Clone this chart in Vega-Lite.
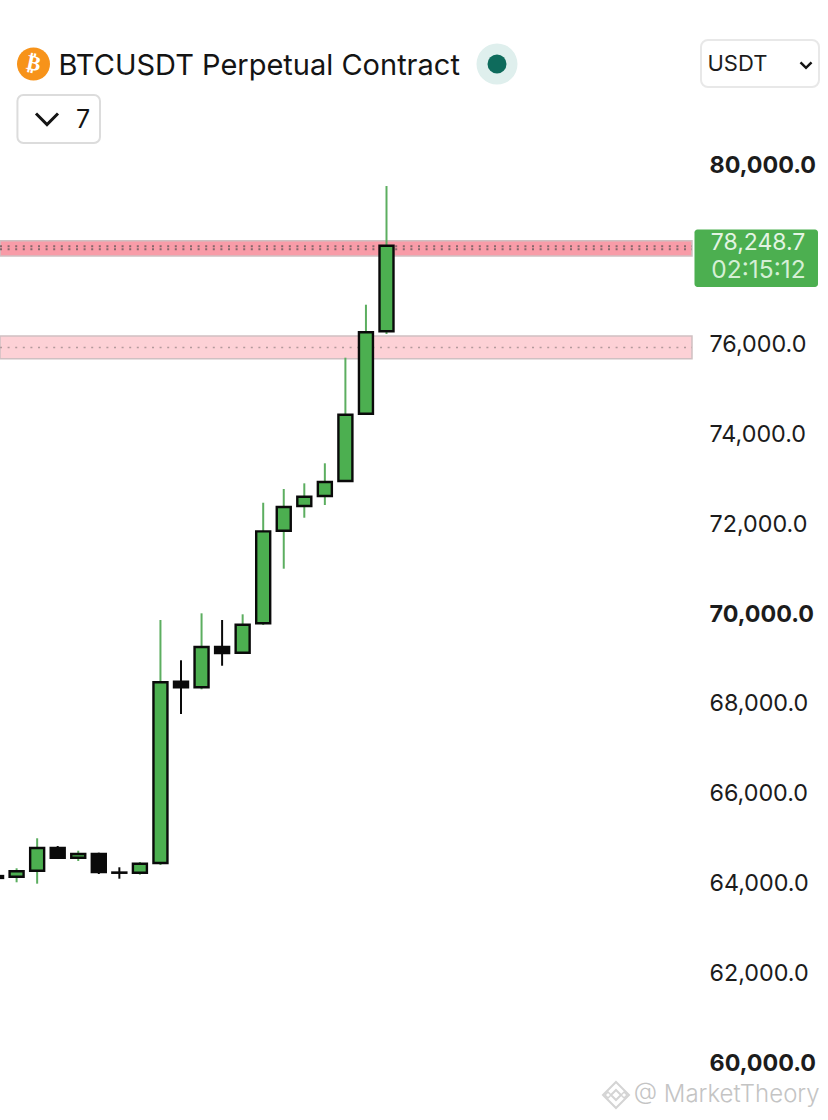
{"$schema":"https://vega.github.io/schema/vega-lite/v6.json","autosize":{"type":"fit","contains":"padding"},"width":828,"height":1120,"padding":0,"background":"#ffffff","config":{"view":{"stroke":null},"font":"Inter"},"datasets":{"candles":[{"t":-1,"open":64165,"close":64123,"high":64165,"low":64123,"dir":"down"},{"t":0,"open":64150,"close":64271,"high":64338,"low":64026,"dir":"up"},{"t":1,"open":64284,"close":64790,"high":65006,"low":63995,"dir":"up"},{"t":2,"open":64790,"close":64573,"high":64834,"low":64573,"dir":"down"},{"t":3,"open":64573,"close":64656,"high":64729,"low":64500,"dir":"up"},{"t":4,"open":64656,"close":64255,"high":64685,"low":64211,"dir":"down"},{"t":5,"open":64243,"close":64238,"high":64360,"low":64106,"dir":"down"},{"t":6,"open":64240,"close":64440,"high":64478,"low":64195,"dir":"up"},{"t":7,"open":64456,"close":68480,"high":69867,"low":64411,"dir":"up"},{"t":8,"open":68493,"close":68368,"high":68970,"low":67774,"dir":"down"},{"t":9,"open":68368,"close":69266,"high":70016,"low":68324,"dir":"up"},{"t":10,"open":69266,"close":69132,"high":69867,"low":68849,"dir":"down"},{"t":11,"open":69139,"close":69762,"high":69994,"low":69139,"dir":"up"},{"t":12,"open":69794,"close":71842,"high":72479,"low":69756,"dir":"up"},{"t":13,"open":71856,"close":72384,"high":72785,"low":71010,"dir":"up"},{"t":14,"open":72406,"close":72613,"high":72911,"low":72145,"dir":"up"},{"t":15,"open":72629,"close":72940,"high":73357,"low":72428,"dir":"up"},{"t":16,"open":72963,"close":74439,"high":75709,"low":72963,"dir":"up"},{"t":17,"open":74461,"close":76274,"high":76889,"low":74461,"dir":"up"},{"t":18,"open":76297,"close":78203,"high":79532,"low":76236,"dir":"up"}],"zones":[{"zone":"upper","low":77973,"high":78314},{"zone":"lower","low":75686,"high":76192}],"levels":[{"zone":"upper","level":78190},{"zone":"upper","level":78123},{"zone":"lower","level":75936}]},"layer":[{"data":{"name":"zones"},"mark":{"type":"rect","stroke":"#cfc0c2","strokeWidth":1.5,"clip":true},"encoding":{"x":{"datum":-0.8078,"type":"quantitative","scale":{"domain":[-0.8078,39.484],"nice":false,"zero":false,"padding":0},"axis":null},"x2":{"datum":32.866},"y":{"field":"low","type":"quantitative","scale":{"domain":[58732,83675],"nice":false,"zero":false},"axis":{"title":null,"orient":"right","offset":-119,"values":[60000,62000,64000,66000,68000,70000,72000,74000,76000,80000],"labelExpr":"format(datum.value,',.1f')","labelAlign":"left","labelBaseline":"middle","labelPadding":0,"labelFont":"Inter","labelFontSize":23.3,"labelColor":"#1c1c1c","labelFontWeight":{"condition":{"test":"datum.value%10000===0","value":"bold"},"value":"normal"},"labelOverlap":false,"labelFlush":false,"labelBound":false,"ticks":false,"domain":false,"grid":false}},"y2":{"field":"high"},"color":{"field":"zone","type":"nominal","legend":null,"scale":{"domain":["upper","lower"],"range":["#f89ca8","#fdd1d6"]}}}},{"data":{"name":"levels"},"mark":{"type":"rule","strokeDash":[2,5.6],"clip":true},"encoding":{"x":{"datum":-0.8078,"type":"quantitative"},"x2":{"datum":32.866},"y":{"field":"level","type":"quantitative"},"stroke":{"field":"zone","type":"nominal","legend":null,"scale":{"domain":["up","down","upper","lower"],"range":["#5cae60","#0a0a0a","#85686c","#b39a9c"]}},"strokeWidth":{"field":"zone","type":"nominal","legend":null,"scale":{"domain":["upper","lower"],"range":[2,1.5]}}}},{"data":{"name":"candles"},"mark":{"type":"rule","strokeWidth":2,"clip":true},"encoding":{"x":{"field":"t","type":"quantitative","scale":{"domain":[-0.8078,39.484],"nice":false,"zero":false,"padding":0}},"y":{"field":"low","type":"quantitative"},"y2":{"field":"high"},"stroke":{"field":"dir","type":"nominal","legend":null,"scale":{"domain":["up","down","upper","lower"],"range":["#5cae60","#0a0a0a","#85686c","#b39a9c"]}}}},{"data":{"name":"candles"},"mark":{"type":"bar","size":14,"stroke":"#0a0a0a","strokeWidth":2.4,"clip":true},"encoding":{"x":{"field":"t","type":"quantitative","scale":{"domain":[-0.8078,39.484],"nice":false,"zero":false,"padding":0}},"y":{"field":"open","type":"quantitative"},"y2":{"field":"close"},"fill":{"field":"dir","type":"nominal","legend":null,"scale":{"domain":["up","down"],"range":["#4caf50","#0a0a0a"]}}}},{"data":{"values":[{"label":"BTCUSDT Perpetual Contract"}]},"mark":{"type":"text","align":"left","baseline":"middle","font":"Inter","fontSize":29,"color":"#141414"},"encoding":{"x":{"datum":2.04,"type":"quantitative"},"y":{"datum":82215,"type":"quantitative"},"text":{"field":"label"}}},{"data":{"values":[{"k":"icon"}]},"mark":{"type":"point","shape":"circle","filled":true,"size":1089,"color":"#f7931a","opacity":1},"encoding":{"x":{"datum":0.822,"type":"quantitative"},"y":{"datum":82249,"type":"quantitative"}}},{"data":{"values":[{"label":"₿"}]},"mark":{"type":"text","align":"center","baseline":"middle","font":"DejaVu Sans","fontWeight":"bold","fontSize":21,"angle":12,"color":"#ffffff"},"encoding":{"x":{"datum":0.822,"type":"quantitative"},"y":{"datum":82249,"type":"quantitative"},"text":{"field":"label"}}},{"data":{"values":[{"k":"halo"}]},"mark":{"type":"point","shape":"circle","filled":true,"size":1681,"color":"#dfefed","opacity":1},"encoding":{"x":{"datum":23.377,"type":"quantitative"},"y":{"datum":82249,"type":"quantitative"}}},{"data":{"values":[{"k":"dot"}]},"mark":{"type":"point","shape":"circle","filled":true,"size":361,"color":"#0e6b5c","opacity":1},"encoding":{"x":{"datum":23.377,"type":"quantitative"},"y":{"datum":82249,"type":"quantitative"}}},{"data":{"values":[{"k":"button"}]},"mark":{"type":"rect","fill":"#ffffff","stroke":"#dcdcdc","strokeWidth":2,"cornerRadius":6},"encoding":{"x":{"datum":0.04,"type":"quantitative"},"x2":{"datum":4.058},"y":{"datum":81559,"type":"quantitative"},"y2":{"datum":80490}}},{"data":{"values":[{"k":"chevron"}]},"mark":{"type":"point","shape":"M-1,-0.5L0,0.5L1,-0.5","filled":false,"size":484,"stroke":"#141414","strokeWidth":3,"opacity":1},"encoding":{"x":{"datum":1.479,"type":"quantitative"},"y":{"datum":81024,"type":"quantitative"}}},{"data":{"values":[{"label":"7"}]},"mark":{"type":"text","align":"left","baseline":"middle","font":"Inter","fontSize":25,"color":"#141414"},"encoding":{"x":{"datum":2.891,"type":"quantitative"},"y":{"datum":81000,"type":"quantitative"},"text":{"field":"label"}}},{"data":{"values":[{"k":"select"}]},"mark":{"type":"rect","fill":"#ffffff","stroke":"#e8e8e8","strokeWidth":2,"cornerRadius":7},"encoding":{"x":{"datum":33.304,"type":"quantitative"},"x2":{"datum":39.046},"y":{"datum":82784,"type":"quantitative"},"y2":{"datum":81737}}},{"data":{"values":[{"label":"USDT"}]},"mark":{"type":"text","align":"left","baseline":"middle","font":"Inter","fontSize":22,"color":"#1c1c1c"},"encoding":{"x":{"datum":33.62,"type":"quantitative"},"y":{"datum":82249,"type":"quantitative"},"text":{"field":"label"}}},{"data":{"values":[{"k":"chevron"}]},"mark":{"type":"point","shape":"M-1,-0.5L0,0.5L1,-0.5","filled":false,"size":121,"stroke":"#141414","strokeWidth":2.5,"opacity":1},"encoding":{"x":{"datum":38.414,"type":"quantitative"},"y":{"datum":82227,"type":"quantitative"}}},{"data":{"values":[{"k":"tag"}]},"mark":{"type":"rect","fill":"#4caf50","cornerRadius":3},"encoding":{"x":{"datum":32.987,"type":"quantitative"},"x2":{"datum":38.997},"y":{"datum":78564,"type":"quantitative"},"y2":{"datum":77283}}},{"data":{"values":[{"label":"78,248.7"}]},"mark":{"type":"text","align":"center","baseline":"middle","font":"Inter","fontSize":23,"color":"#e3f4e3"},"encoding":{"x":{"datum":36.08,"type":"quantitative"},"y":{"datum":78263,"type":"quantitative"},"text":{"field":"label"}}},{"data":{"values":[{"label":"02:15:12"}]},"mark":{"type":"text","align":"center","baseline":"middle","font":"Inter","fontSize":24.5,"color":"#d5efd5"},"encoding":{"x":{"datum":36.1,"type":"quantitative"},"y":{"datum":77639,"type":"quantitative"},"text":{"field":"label"}}},{"data":{"values":[{"label":"@ MarketTheory"}]},"mark":{"type":"text","align":"left","baseline":"middle","font":"Inter","fontWeight":300,"fontSize":24,"color":"#c4c4c4"},"encoding":{"x":{"datum":30.03,"type":"quantitative"},"y":{"datum":59289,"type":"quantitative"},"text":{"field":"label"}}},{"data":{"values":[{"k":"logo"}]},"mark":{"type":"point","shape":"diamond","filled":false,"size":676,"stroke":"#d4d4d4","strokeWidth":2,"opacity":1},"encoding":{"x":{"datum":29.167,"type":"quantitative"},"y":{"datum":59289,"type":"quantitative"}}},{"data":{"values":[{"k":"logo"}]},"mark":{"type":"point","shape":"diamond","filled":false,"size":100,"stroke":"#d4d4d4","strokeWidth":2,"opacity":1},"encoding":{"x":{"datum":29.167,"type":"quantitative"},"y":{"datum":59289,"type":"quantitative"}}},{"data":{"values":[{"k":"logo"}]},"mark":{"type":"point","shape":"diamond","filled":false,"size":36,"stroke":"#d4d4d4","strokeWidth":1.5,"opacity":1},"encoding":{"x":{"datum":28.78,"type":"quantitative"},"y":{"datum":59289,"type":"quantitative"}}},{"data":{"values":[{"k":"logo"}]},"mark":{"type":"point","shape":"diamond","filled":false,"size":36,"stroke":"#d4d4d4","strokeWidth":1.5,"opacity":1},"encoding":{"x":{"datum":29.56,"type":"quantitative"},"y":{"datum":59289,"type":"quantitative"}}}]}
